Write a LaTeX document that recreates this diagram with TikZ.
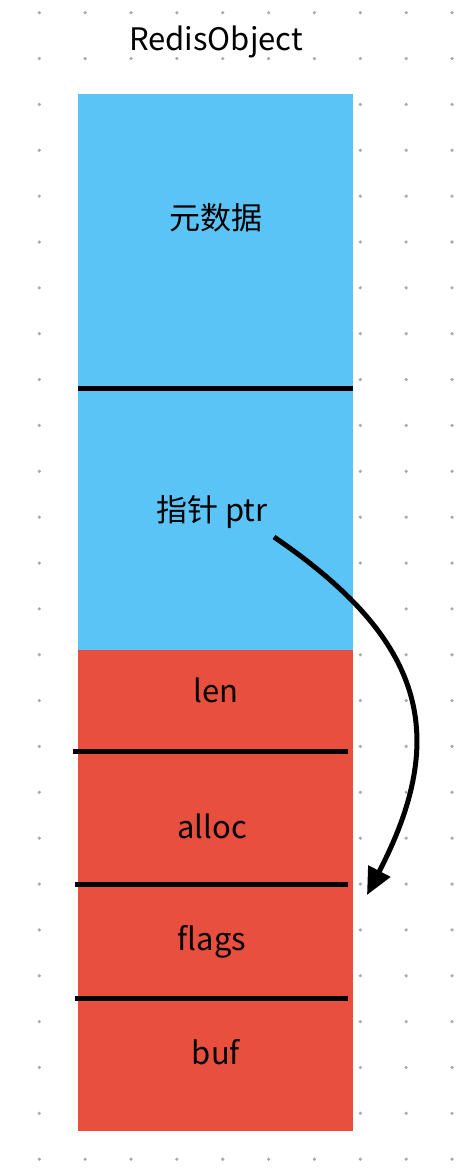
\documentclass[tikz,border=0pt]{standalone}
\usepackage{fontspec}
\setmainfont{Noto Sans CJK SC}
\usepackage{xcolor}
\usetikzlibrary{arrows.meta}

\definecolor{metablue}{RGB}{91,196,247}
\definecolor{sdsred}{RGB}{233,79,63}
\definecolor{dotgray}{RGB}{170,170,170}

\begin{document}
\begin{tikzpicture}[x=1pt, y=-1pt,
		field/.style={font=\fontsize{31}{36}\selectfont, inner sep=0pt},
		divider/.style={line width=5pt},
		pointer/.style={line width=5pt, -{Triangle[length=27pt, width=24pt]}}]
	\useasboundingbox (0,0) rectangle (474,1175);
	\def\gap{45.86}
	% dot grid
	\foreach \i in {0,...,9}{
		\foreach \j in {0,...,25}{
			\fill[dotgray] (39.3+\i*\gap, 12.7+\j*\gap) circle[radius=1.8pt];
		}
	}

	\fill[metablue] (78,94) rectangle (353,650);
	\fill[sdsred] (78,650) rectangle (353,1131);

	\node[field] (title) at (216,42) {RedisObject};
	\node[field] (meta) at (216,218) {元数据};
	\node[field] (ptr) at (212,512) {指针 ptr};
	\node[field] (len) at (216,690) {len};
	\node[field] (alloc) at (212,826) {alloc};
	\node[field] (flags) at (212,942) {flags};
	\node[field] (buf) at (216,1052) {buf};

	\draw[divider] (78,388) -- (353,388);
	\foreach \y/\l in {751/73,884/75,998/75}{
		\draw[divider] (\l,\y) -- (348,\y);
	}

	\coordinate (ptrtail) at (274,537);
	\coordinate (ptrhead) at (367,895);
	\draw[pointer] (ptrtail) .. controls (425,640) and (450,735) .. (ptrhead);
\end{tikzpicture}
\end{document}
